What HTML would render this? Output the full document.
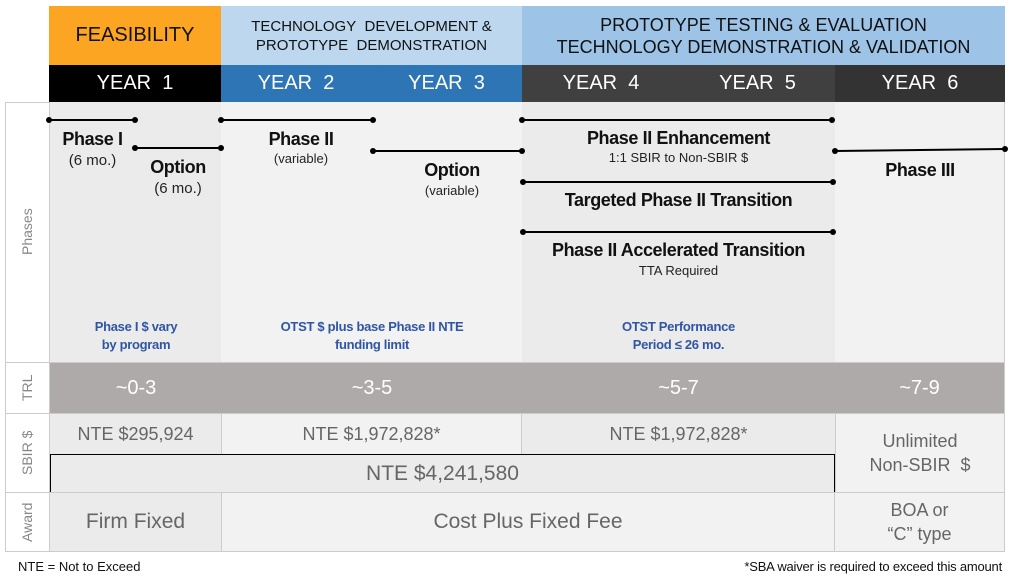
<!DOCTYPE html>
<html><head><meta charset="utf-8"><style>
body{margin:0;width:1016px;height:582px;background:#fff;font-family:"Liberation Sans",Arial,sans-serif;position:relative;overflow:hidden}
.a{position:absolute;box-sizing:border-box}
.c{display:flex;align-items:center;justify-content:center;text-align:center}
.v{writing-mode:vertical-rl;transform:rotate(180deg);color:#888;font-size:14px}
.b{font-weight:bold;color:#111;letter-spacing:-0.4px}
.blue{color:#2F55A4;font-weight:bold;font-size:13px;line-height:18px;letter-spacing:-0.3px}
.g{color:#666}
</style></head><body>
<div class="a c" style="left:49px;top:6px;width:172px;height:59px;background:#FBA523;font-size:20px;color:#111">FEASIBILITY</div>
<div class="a c" style="left:221px;top:6px;width:301px;height:59px;background:#BDD7EE;font-size:15px;color:#111;line-height:19px">TECHNOLOGY&nbsp; DEVELOPMENT &amp;<br>PROTOTYPE&nbsp; DEMONSTRATION</div>
<div class="a c" style="left:522px;top:6px;width:483px;height:59px;background:#9DC3E6;font-size:18px;color:#111;line-height:22px">PROTOTYPE TESTING &amp; EVALUATION<br>TECHNOLOGY DEMONSTRATION &amp; VALIDATION</div>
<div class="a c" style="left:49px;top:65px;width:172px;height:37px;background:#000;color:#fff;font-size:20px">YEAR&nbsp; 1</div>
<div class="a c" style="left:221px;top:65px;width:150px;height:37px;background:#2E75B6;color:#fff;font-size:20px">YEAR&nbsp; 2</div>
<div class="a c" style="left:371px;top:65px;width:151px;height:37px;background:#2E75B6;color:#fff;font-size:20px">YEAR&nbsp; 3</div>
<div class="a c" style="left:522px;top:65px;width:158px;height:37px;background:#404040;color:#fff;font-size:20px">YEAR&nbsp; 4</div>
<div class="a c" style="left:680px;top:65px;width:155px;height:37px;background:#404040;color:#fff;font-size:20px">YEAR&nbsp; 5</div>
<div class="a c" style="left:835px;top:65px;width:170px;height:37px;background:#333;color:#fff;font-size:20px">YEAR&nbsp; 6</div>
<div class="a" style="left:5px;top:102px;width:1000px;height:450px;border:1px solid #ccc"></div>
<div class="a" style="left:49px;top:102px;width:172px;height:260px;background:#EBEBEB"></div>
<div class="a" style="left:221px;top:102px;width:301px;height:260px;background:#F2F2F2"></div>
<div class="a" style="left:522px;top:102px;width:313px;height:260px;background:#EBEBEB"></div>
<div class="a" style="left:835px;top:102px;width:169px;height:260px;background:#F2F2F2"></div>
<div class="a c v" style="left:5px;top:102px;width:44px;height:260px">Phases</div>
<div class="a" style="left:5px;top:362px;width:999px;height:1px;background:#ccc"></div>
<div class="a" style="left:50px;top:363px;width:954px;height:50px;background:#AEAAAA"></div>
<div class="a c v" style="left:5px;top:363px;width:44px;height:50px">TRL</div>
<div class="a c" style="left:50px;top:363px;width:172px;height:50px;color:#fff;font-size:20px">~0-3</div>
<div class="a c" style="left:222px;top:363px;width:300px;height:50px;color:#fff;font-size:20px">~3-5</div>
<div class="a c" style="left:522px;top:363px;width:313px;height:50px;color:#fff;font-size:20px">~5-7</div>
<div class="a c" style="left:835px;top:363px;width:169px;height:50px;color:#fff;font-size:20px">~7-9</div>
<div class="a" style="left:5px;top:413px;width:999px;height:1px;background:#ccc"></div>
<div class="a c v" style="left:5px;top:414px;width:44px;height:78px">SBIR $</div>
<div class="a c g" style="left:50px;top:414px;width:172px;height:40px;background:#EBEBEB;font-size:18px;border-right:1px solid #ccc">NTE $295,924</div>
<div class="a c g" style="left:222px;top:414px;width:300px;height:40px;background:#F2F2F2;font-size:18px;border-right:1px solid #ccc">NTE $1,972,828*</div>
<div class="a c g" style="left:522px;top:414px;width:313px;height:40px;background:#EBEBEB;font-size:18px">NTE $1,972,828*</div>
<div class="a c g" style="left:50px;top:454px;width:785px;height:39px;background:#EBEBEB;border:1px solid #000;font-size:21px">NTE $4,241,580</div>
<div class="a c g" style="left:835px;top:414px;width:169px;height:78px;background:#F2F2F2;font-size:18px;line-height:24px;border-left:1px solid #ccc">Unlimited<br>Non-SBIR&nbsp; $</div>
<div class="a" style="left:5px;top:492px;width:999px;height:1px;background:#ccc"></div>
<div class="a c v" style="left:5px;top:493px;width:44px;height:58px">Award</div>
<div class="a c g" style="left:50px;top:493px;width:172px;height:58px;background:#EBEBEB;font-size:21px;border-right:1px solid #ccc">Firm Fixed</div>
<div class="a c g" style="left:222px;top:493px;width:613px;height:58px;background:#F2F2F2;font-size:21px;border-right:1px solid #ccc">Cost Plus Fixed Fee</div>
<div class="a c g" style="left:835px;top:493px;width:169px;height:58px;background:#F2F2F2;font-size:18px;line-height:24px">BOA or<br>“C” type</div>
<div class="a" style="left:49px;top:102px;width:1px;height:450px;background:#ccc"></div>
<svg class="a" style="left:0;top:0" width="1016" height="582">
<g stroke="#000" stroke-width="2">
<line x1="49" y1="120" x2="135" y2="120"/><line x1="135" y1="148" x2="221" y2="148"/>
<line x1="221" y1="120" x2="373" y2="120"/><line x1="373" y1="151" x2="522" y2="151"/>
<line x1="522" y1="120" x2="832" y2="120"/><line x1="835" y1="151" x2="1005" y2="149"/>
<line x1="523" y1="182" x2="833" y2="182"/><line x1="523" y1="232" x2="833" y2="232"/>
</g>
<g fill="#000">
<circle cx="49" cy="120" r="3"/><circle cx="135" cy="120" r="3"/><circle cx="135" cy="148" r="3"/><circle cx="221" cy="148" r="3"/>
<circle cx="221" cy="120" r="3"/><circle cx="373" cy="120" r="3"/><circle cx="373" cy="151" r="3"/><circle cx="522" cy="151" r="3"/>
<circle cx="522" cy="120" r="3"/><circle cx="832" cy="120" r="3"/><circle cx="835" cy="151" r="3"/><circle cx="1005" cy="149" r="3"/>
<circle cx="523" cy="182" r="3"/><circle cx="833" cy="182" r="3"/><circle cx="523" cy="232" r="3"/><circle cx="833" cy="232" r="3"/>
</g></svg>
<div class="a b" style="left:50px;top:129px;width:85px;text-align:center;font-size:18px">Phase I</div>
<div class="a" style="left:50px;top:152px;width:85px;text-align:center;font-size:15px;color:#222">(6 mo.)</div>
<div class="a b" style="left:135px;top:157px;width:86px;text-align:center;font-size:18px">Option</div>
<div class="a" style="left:135px;top:180px;width:86px;text-align:center;font-size:15px;color:#222">(6 mo.)</div>
<div class="a b" style="left:221px;top:129px;width:160px;text-align:center;font-size:18px">Phase II</div>
<div class="a" style="left:221px;top:151px;width:160px;text-align:center;font-size:13px;color:#222">(variable)</div>
<div class="a b" style="left:373px;top:160px;width:158px;text-align:center;font-size:18px">Option</div>
<div class="a" style="left:373px;top:183px;width:158px;text-align:center;font-size:13px;color:#222">(variable)</div>
<div class="a b" style="left:522px;top:128px;width:313px;text-align:center;font-size:18px">Phase II Enhancement</div>
<div class="a" style="left:522px;top:150px;width:313px;text-align:center;font-size:13px;color:#222">1:1 SBIR to Non-SBIR $</div>
<div class="a b" style="left:522px;top:190px;width:313px;text-align:center;font-size:18px">Targeted Phase II Transition</div>
<div class="a b" style="left:522px;top:240px;width:313px;text-align:center;font-size:18px">Phase II Accelerated Transition</div>
<div class="a" style="left:522px;top:263px;width:313px;text-align:center;font-size:13px;color:#222">TTA Required</div>
<div class="a b" style="left:835px;top:160px;width:170px;text-align:center;font-size:18px">Phase III</div>
<div class="a blue" style="left:50px;top:318px;width:172px;text-align:center">Phase I $ vary<br>by program</div>
<div class="a blue" style="left:222px;top:318px;width:300px;text-align:center">OTST $ plus base Phase II NTE<br>funding limit</div>
<div class="a blue" style="left:522px;top:318px;width:313px;text-align:center">OTST Performance<br>Period ≤ 26 mo.</div>
<div class="a" style="left:18px;top:559px;font-size:13px;color:#111">NTE = Not to Exceed</div>
<div class="a" style="right:14px;top:559px;font-size:13px;color:#111;letter-spacing:-0.2px">*SBA waiver is required to exceed this amount</div>
</body></html>
